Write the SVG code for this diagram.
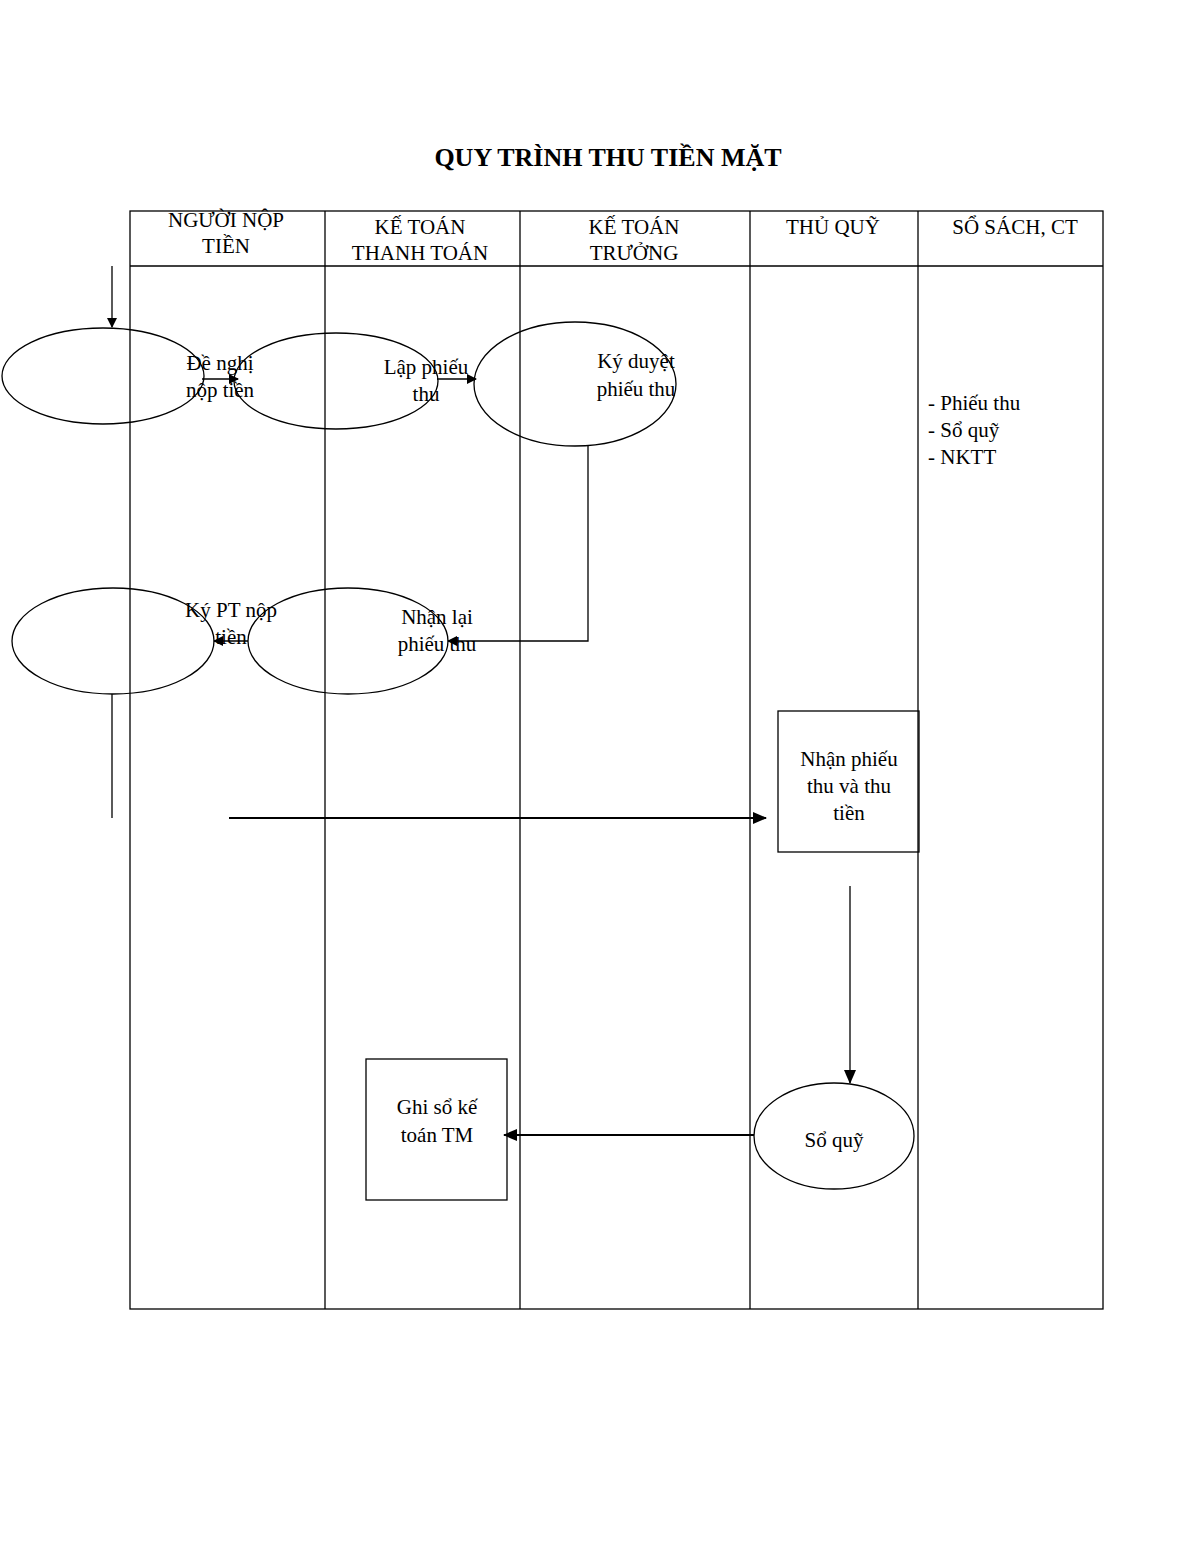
<svg xmlns="http://www.w3.org/2000/svg" width="1200" height="1553" viewBox="0 0 1200 1553">
<style>
.l{stroke:#000;stroke-width:1.3;fill:none}
.t{font-family:"Liberation Serif",serif;font-size:21px;fill:#000;text-anchor:middle}
.h{font-family:"Liberation Serif",serif;font-size:21px;fill:#000;text-anchor:middle}
</style>
<defs><marker id="a" markerWidth="10" markerHeight="10" refX="9" refY="5" orient="auto" markerUnits="userSpaceOnUse"><path d="M0,0L10,5L0,10z" fill="#000"/></marker>
<marker id="b" markerWidth="14" markerHeight="12" refX="13" refY="6" orient="auto" markerUnits="userSpaceOnUse"><path d="M0,0L14,6L0,12z" fill="#000"/></marker></defs>
<rect width="1200" height="1553" fill="#fff"/>
<text x="608" y="166" font-family="Liberation Serif,serif" font-size="26" font-weight="bold" text-anchor="middle">QUY TRÌNH THU TIỀN MẶT</text>
<g id="lanes" class="l">
<rect x="130" y="211" width="973" height="1098"/>
<line x1="130" y1="266" x2="1103" y2="266"/>
<line x1="325" y1="211" x2="325" y2="1309"/>
<line x1="520" y1="211" x2="520" y2="1309"/>
<line x1="750" y1="211" x2="750" y2="1309"/>
<line x1="918" y1="211" x2="918" y2="1309"/>
</g>
<g id="headers">
<text class="h" x="226" y="227">NGƯỜI NỘP</text><text class="h" x="226" y="253">TIỀN</text>
<text class="h" x="420" y="234">KẾ TOÁN</text><text class="h" x="420" y="260">THANH TOÁN</text>
<text class="h" x="634" y="234">KẾ TOÁN</text><text class="h" x="634" y="260">TRƯỞNG</text>
<text class="h" x="833" y="234">THỦ QUỸ</text>
<text class="h" x="1015" y="234">SỔ SÁCH, CT</text>
</g>
<g id="n1"><ellipse class="l" cx="103" cy="376" rx="101" ry="48"/><text class="t" x="220" y="370">Đề nghị</text><text class="t" x="220" y="397">nộp tiền</text></g>
<g id="n2"><ellipse class="l" cx="336" cy="381" rx="102" ry="48"/><text class="t" x="426" y="374">Lập phiếu</text><text class="t" x="426" y="401">thu</text></g>
<g id="n3"><ellipse class="l" cx="575" cy="384" rx="101" ry="62"/><text class="t" x="636" y="368">Ký duyệt</text><text class="t" x="636" y="396">phiếu thu</text></g>
<g id="n4"><ellipse class="l" cx="113" cy="641" rx="101" ry="53"/><text class="t" x="231" y="617">Ký PT nộp</text><text class="t" x="231" y="644">tiền</text></g>
<g id="n5"><ellipse class="l" cx="348" cy="641" rx="100" ry="53"/><text class="t" x="437" y="624">Nhận lại</text><text class="t" x="437" y="651">phiếu thu</text></g>
<g id="n6"><rect class="l" x="778" y="711" width="141" height="141"/><text class="t" x="849" y="766">Nhận phiếu</text><text class="t" x="849" y="793">thu và thu</text><text class="t" x="849" y="820">tiền</text></g>
<g id="n7"><ellipse class="l" cx="834" cy="1136" rx="80" ry="53"/><text class="t" x="834" y="1147">Sổ quỹ</text></g>
<g id="n8"><rect class="l" x="366" y="1059" width="141" height="141"/><text class="t" x="437" y="1114">Ghi sổ kế</text><text class="t" x="437" y="1142">toán TM</text></g>
<g id="notes" font-family="Liberation Serif,serif" font-size="21"><text x="928" y="410">- Phiếu thu</text><text x="928" y="437">- Sổ quỹ</text><text x="928" y="464">- NKTT</text></g>
<g id="connectors" class="l">
<line x1="112" y1="266" x2="112" y2="327" marker-end="url(#a)"/>
<line x1="202" y1="379" x2="238" y2="379" marker-end="url(#a)"/>
<line x1="437" y1="379" x2="476" y2="379" marker-end="url(#a)"/>
<polyline points="588,446 588,641 448,641" marker-end="url(#a)"/>
<line x1="248" y1="641" x2="214" y2="641" marker-end="url(#a)"/>
<line x1="112" y1="694" x2="112" y2="818"/>
<line x1="229" y1="818" x2="766" y2="818" stroke-width="2" marker-end="url(#b)"/>
<line x1="850" y1="886" x2="850" y2="1083" marker-end="url(#b)"/>
<line x1="754" y1="1135" x2="504" y2="1135" stroke-width="2" marker-end="url(#b)"/>
</g>
</svg>
